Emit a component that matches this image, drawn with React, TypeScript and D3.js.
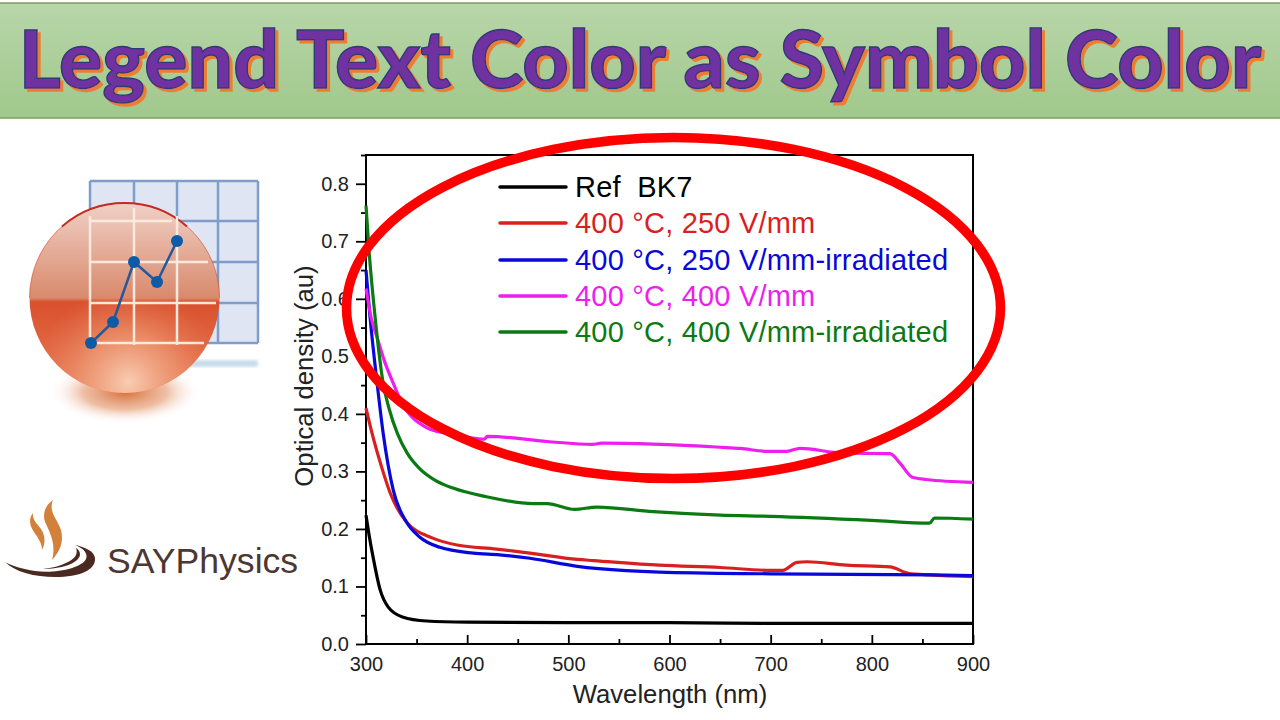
import { useEffect, useRef } from 'react';
import * as d3 from 'd3';

const legendLabels = ['Ref  BK7', '400 °C, 250 V/mm', '400 °C, 250 V/mm-irradiated', '400 °C, 400 V/mm', '400 °C, 400 V/mm-irradiated'];
const seriesColors = ['#000000', '#da1f1f', '#0808dc', '#ee1fee', '#0b7a12'];
const legendY = [187, 223, 260, 296, 332];

const xTicks = [300, 400, 500, 600, 700, 800, 900];
const xMinor = [350, 450, 550, 650, 750, 850];
const yTicks = [0, 0.1, 0.2, 0.3, 0.4, 0.5, 0.6, 0.7, 0.8];
const yMinor = [0.05, 0.15, 0.25, 0.35, 0.45, 0.55, 0.65, 0.75, 0.85];

const blackX = [300, 303, 307, 314, 322, 336, 360, 400, 500, 600, 700, 900];
const blackY = [0.224, 0.19, 0.151, 0.094, 0.064, 0.047, 0.04, 0.038, 0.037, 0.037, 0.036, 0.036];

const redX = [300, 306, 315, 324, 340, 366, 390, 429, 462, 509, 525, 590, 650, 699, 712, 726, 736, 775, 818, 836, 857, 900];
const redY = [0.41, 0.366, 0.31, 0.262, 0.212, 0.184, 0.172, 0.165, 0.158, 0.147, 0.145, 0.137, 0.133, 0.128, 0.128, 0.142, 0.143, 0.137, 0.134, 0.123, 0.12, 0.117];

const blueX = [300, 304, 311, 317, 327, 340, 353, 373, 406, 432, 462, 509, 530, 590, 700, 860, 900];
const blueY = [0.65, 0.568, 0.453, 0.366, 0.267, 0.212, 0.186, 0.168, 0.158, 0.155, 0.149, 0.135, 0.131, 0.125, 0.122, 0.12, 0.119];

const magentaX = [300, 305, 311, 318, 327, 333, 360, 380, 395, 417, 420, 479, 524, 533, 650, 670, 696, 716, 729, 771, 818, 828, 840, 854, 900];
const magentaY = [0.618, 0.568, 0.533, 0.493, 0.453, 0.428, 0.376, 0.366, 0.361, 0.356, 0.361, 0.352, 0.347, 0.349, 0.342, 0.34, 0.335, 0.335, 0.34, 0.332, 0.331, 0.314, 0.29, 0.286, 0.281];

const greenX = [300, 303, 309, 317, 323, 331, 341, 353, 368, 386, 419, 465, 479, 506, 528, 584, 650, 700, 800, 857, 862, 900];
const greenY = [0.762, 0.684, 0.568, 0.453, 0.408, 0.366, 0.331, 0.305, 0.285, 0.271, 0.256, 0.244, 0.244, 0.234, 0.238, 0.23, 0.224, 0.222, 0.215, 0.21, 0.219, 0.217];

const seriesX = [blackX, redX, blueX, magentaX, greenX];
const seriesY = [blackY, redY, blueY, magentaY, greenY];

const logoPoints = [[91, 343], [113, 322], [134, 262], [157, 282], [177, 241]];
const tableX = [90, 134, 177, 218, 258];
const tableY = [181, 221, 262, 303, 343];
const sphereRowEnd = [172, 208, 216, 204];

const x = d3.scaleLinear().domain([300, 900]).range([366, 973]);
const y = d3.scaleLinear().domain([0, 0.85]).range([644, 155]);
const AXIS_FONT = '"Liberation Sans", Arial, sans-serif';
const TITLE = 'Legend Text Color as Symbol Color';

export default function App() {
    const axesRef = useRef<SVGGElement>(null);

    useEffect(() => {
        if (!axesRef.current) return;
        const g = d3.select(axesRef.current);
        g.selectAll('*').remove();

        // x ticks point inward on this chart, y ticks outward
        g.append('g')
            .attr('transform', 'translate(0,644)')
            .call(d3.axisBottom(x).tickValues(xMinor).tickSize(-5).tickFormat(() => ''));
        g.append('g')
            .attr('transform', 'translate(0,644)')
            .call(d3.axisBottom(x).tickValues(xTicks).tickSize(-9).tickPadding(13).tickFormat(d3.format('d')));
        g.append('g')
            .attr('transform', 'translate(366,0)')
            .call(d3.axisLeft(y).tickValues(yMinor).tickSize(5).tickFormat(() => ''));
        g.append('g')
            .attr('transform', 'translate(366,0)')
            .call(d3.axisLeft(y).tickValues(yTicks).tickSize(10).tickPadding(7).tickFormat(d3.format('.1f')));

        g.selectAll('.domain').remove();
        g.selectAll('line').attr('stroke', '#000').attr('stroke-width', 1.8);
        g.selectAll('text').attr('fill', '#222').style('font-size', '20px').style('font-family', AXIS_FONT);
    }, []);

    const line = d3.line<number>()
        .x(d => x(d))
        .curve(d3.curveMonotoneX);

    const logoLine = d3.line();

    return (
        <svg width={1280} height={720} style={{ position: 'absolute', left: 0, top: 0, background: '#fff' }}>
            <defs>
                <linearGradient id="band" x1="0" y1="0" x2="0" y2="1">
                    <stop offset="0" stopColor="#b8d6aa" />
                    <stop offset="1" stopColor="#a0c88b" />
                </linearGradient>
                <linearGradient id="sphereTop" x1="0" y1="0" x2="0" y2="1">
                    <stop offset="0" stopColor="#f0d0c6" />
                    <stop offset="0.5" stopColor="#d98a6c" />
                    <stop offset="0.52" stopColor="#d9502c" />
                    <stop offset="1" stopColor="#e87d58" />
                </linearGradient>
                <radialGradient id="sphereGlow" cx="0.52" cy="0.94" r="0.5">
                    <stop offset="0" stopColor="#f9cdb2" />
                    <stop offset="0.5" stopColor="#f0a47f" stopOpacity="0.6" />
                    <stop offset="1" stopColor="#e87d58" stopOpacity="0" />
                </radialGradient>
                <radialGradient id="sphereShadow">
                    <stop offset="0" stopColor="#d8703a" />
                    <stop offset="0.55" stopColor="#e7a37e" stopOpacity="0.7" />
                    <stop offset="1" stopColor="#ffffff" stopOpacity="0" />
                </radialGradient>
                <filter id="soft"><feGaussianBlur stdDeviation="1.5" /></filter>
                <filter id="titleShadow" x="-2%" y="-10%" width="104%" height="125%">
                    <feDropShadow dx="3" dy="3" stdDeviation="0.3" floodColor="#ed7d31" />
                </filter>
            </defs>

            {/* title band */}
            <rect x={-2} y={3} width={1284} height={115} fill="url(#band)" stroke="#76a35a" strokeWidth={1.5} />
            <text
                x={640}
                y={88}
                fontFamily="Lato, sans-serif"
                fontWeight={900}
                fontSize={80.6}
                textAnchor="middle"
                fill="#7030a0"
                stroke="#2f3a78"
                strokeWidth={1.4}
                filter="url(#titleShadow)"
            >
                {TITLE}
            </text>

            {/* Origin logo */}
            <ellipse cx={125} cy={392} rx={76} ry={32} fill="url(#sphereShadow)" />
            <rect x={190} y={360} width={68} height={7} fill="#c9dcec" rx={3} filter="url(#soft)" />
            <rect x={90} y={181} width={168} height={162} fill="#dfe5f2" />
            {tableX.map(v => <line key={v} x1={v} x2={v} y1={181} y2={343} stroke="#7f9dcb" strokeWidth={2.5} />)}
            {tableY.map(v => <line key={v} y1={v} y2={v} x1={90} x2={258} stroke="#7f9dcb" strokeWidth={2.5} />)}
            <circle cx={124.5} cy={298} r={95} fill="url(#sphereTop)" />
            <circle cx={124.5} cy={298} r={95} fill="url(#sphereGlow)" />
            <path d="M29.5,298 A95,95 0 0 1 219.5,298" fill="none" stroke="#d2492a" strokeOpacity={0.6} strokeWidth={1} />
            <path d="M62,226.5 A95,95 0 0 1 187,226.5" fill="none" stroke="#c42b22" strokeWidth={2} />
            {tableX.slice(0, 3).map(v => (
                <line key={v} x1={v} x2={v} y1={v === 134 ? 208 : 216} y2={345} stroke="#fbe9df" strokeWidth={2.5} />
            ))}
            {tableY.slice(1).map((v, i) => (
                <line key={v} y1={v} y2={v} x1={89} x2={sphereRowEnd[i]} stroke="#fbe9df" strokeWidth={2.5} />
            ))}
            <path d={logoLine(logoPoints as [number, number][]) ?? ''} fill="none" stroke="#26589c" strokeWidth={2.5} />
            {logoPoints.map(p => <circle key={p[0]} cx={p[0]} cy={p[1]} r={6} fill="#0d5aa7" />)}

            {/* SAYPhysics logo */}
            <path d="M53,500 C44,506 42,516 46,524 C51,535 56,545 52,560 C60,551 64,542 61,530 C58,520 48,512 53,500 Z" fill="#d3813a" />
            <path d="M33,513 C28,519 30,526 34,532 C38,538 42,543 42,550 C46,543 45,535 41,529 C37,523 32,520 33,513 Z" fill="#d3813a" />
            <path d="M5,562 C15,572 35,577 55,577 C80,577 96,570 95,558 C94,551 85,547 75,545 C85,549 88,554 86,559 C82,568 55,574 35,571 C22,569 12,566 5,562 Z" fill="#4a2a20" />
            <path d="M43,569 C60,569 78,564 80,555 C80,551 78,549 76,548 C78,553 76,558 68,562 C60,566 52,568 43,569 Z" fill="#4a2a20" />
            <text x={107} y={573} fontFamily={AXIS_FONT} fontSize={35.6} fill="#4d3733">SAYPhysics</text>

            {/* plot frame */}
            <rect x={366} y={155} width={607} height={489} fill="#fff" stroke="#000" strokeWidth={2} />
            <g ref={axesRef} />
            <text x={670} y={703} textAnchor="middle" fontFamily={AXIS_FONT} fontSize={25.7} fill="#222">Wavelength (nm)</text>
            <text transform="translate(313,376) rotate(-90)" textAnchor="middle" fontFamily={AXIS_FONT} fontSize={25.7} fill="#222">Optical density (au)</text>

            {seriesX.map((xs, i) => (
                <path
                    key={i}
                    d={line.y((_, j) => y(seriesY[i][j]))(xs) ?? ''}
                    fill="none"
                    stroke={seriesColors[i]}
                    strokeWidth={3.2}
                />
            ))}

            {legendLabels.map((label, i) => (
                <g key={label}>
                    <line x1={500} x2={566} y1={legendY[i]} y2={legendY[i]} stroke={seriesColors[i]} strokeWidth={3.5} strokeLinecap="round" />
                    <text x={575} y={legendY[i] + 10} fontFamily={AXIS_FONT} fontSize={29} letterSpacing={0.2} fill={seriesColors[i]} style={{ whiteSpace: 'pre' }}>{label}</text>
                </g>
            ))}

            <ellipse cx={673.5} cy={308} rx={327} ry={170.5} fill="none" stroke="#ff0000" strokeWidth={9.5} />
        </svg>
    );
}
